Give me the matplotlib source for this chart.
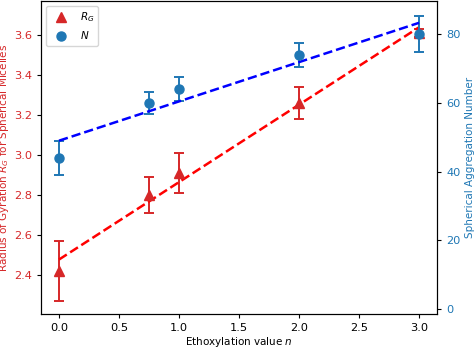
import numpy as np
import matplotlib
matplotlib.use("Agg")
import matplotlib.pyplot as plt
from matplotlib.lines import Line2D

n_vals = [0.0, 0.75, 1.0, 2.0, 3.0]
rg_vals = [2.42, 2.80, 2.91, 3.26, 3.61]
rg_err = [0.15, 0.09, 0.10, 0.08, 0.02]
N_vals = [44, 60, 64, 74, 80]
N_err = [5.0, 3.2, 3.5, 3.5, 5.3]

red = "#d62728"
blue = "#1f77b4"
fs = 8.2
lfs = 7.5

plt.rcParams["xtick.major.size"] = 3
plt.rcParams["ytick.major.size"] = 3

fig, ax = plt.subplots(figsize=(4.74, 3.47), dpi=100)
fig.subplots_adjust(left=41/474, right=437/474, top=0.997, bottom=1-314/347)

ax.errorbar(n_vals, rg_vals, yerr=rg_err, fmt="^", color=red, ms=6.5,
            capsize=3.6, elinewidth=1.4, capthick=1.4)
p = np.polyfit(n_vals, rg_vals, 1)
xf = np.array([min(n_vals), max(n_vals)])
ax.plot(xf, np.polyval(p, xf), "r--", lw=1.8)
ax.set_ylim(2.205, 3.77)
ax.set_xlim(-0.15, 3.15)
ax.set_xlabel("Ethoxylation value $n$", fontsize=lfs, labelpad=1.2)
ax.set_ylabel("Radius of Gyration $R_G$ for Spherical Micelles", color=red,
              fontsize=lfs, labelpad=2)
ax.tick_params(axis="y", labelcolor=red, labelsize=fs)
ax.tick_params(axis="x", labelsize=fs)
ax.set_xticks([0.0, 0.5, 1.0, 1.5, 2.0, 2.5, 3.0])
ax.set_yticks([2.4, 2.6, 2.8, 3.0, 3.2, 3.4, 3.6])

ax2 = ax.twinx()
ax2.errorbar(n_vals, N_vals, yerr=N_err, fmt="o", color=blue, ms=6.5,
             capsize=3.6, elinewidth=1.4, capthick=1.4)
q = np.polyfit(n_vals, N_vals, 1)
ax2.plot(xf, np.polyval(q, xf), "b--", lw=1.8)
ax2.set_ylim(-1.45, 89.6)
ax2.set_yticks([0, 20, 40, 60, 80])
ax2.set_ylabel("Spherical Aggregation Number", color=blue, fontsize=lfs, labelpad=3.5)
ax2.tick_params(axis="y", labelcolor=blue, labelsize=fs)

handles = [Line2D([], [], marker="^", color=red, ls="none", ms=6.5),
           Line2D([], [], marker="o", color=blue, ls="none", ms=6.5)]
ax.legend(handles, ["$R_G$", "$N$"], loc="upper left", fontsize=lfs)

fig.savefig("out.png", dpi=100)
